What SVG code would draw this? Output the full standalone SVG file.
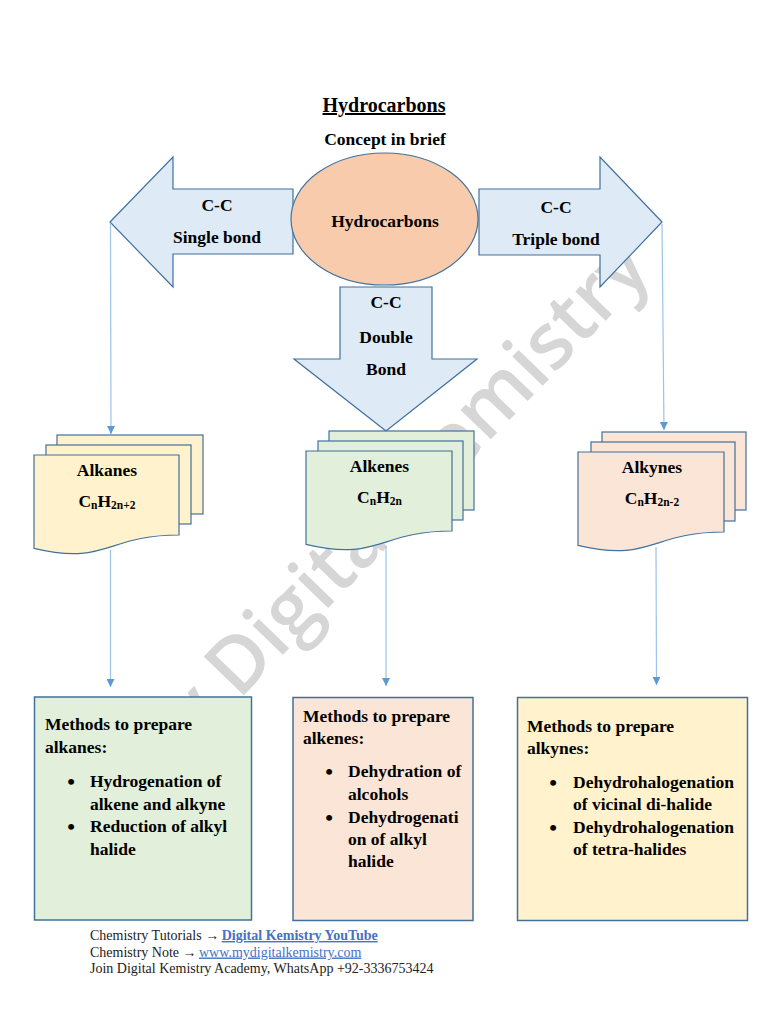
<svg xmlns="http://www.w3.org/2000/svg" width="768" height="1024" viewBox="0 0 768 1024">
<style>
.t{font-family:"Liberation Serif","Times New Roman",serif;font-weight:bold;font-size:17.5px;fill:#000}
.c{text-anchor:middle}
.sub{font-size:11.5px}
.bul{font-size:22px}
.arrow{fill:#DEEBF7;stroke:#41719C;stroke-width:1.2;stroke-linejoin:miter}
.doc{stroke:#41719C;stroke-width:1.2}
.box{stroke:#41719C;stroke-width:1.5}
.conn{stroke:#9DC3E6;stroke-width:1.2;fill:none}
.ft{font-family:"Liberation Serif","Times New Roman",serif;font-size:14px;fill:#222}
.lnk{fill:#4472C4;text-decoration:underline}
</style>
<defs>
<marker id="ah" viewBox="0 0 10 10" refX="10" refY="5" markerWidth="8" markerHeight="8" markerUnits="userSpaceOnUse" orient="auto">
<path d="M0,0 L10,5 L0,10 Z" fill="#5B9BD5"/>
</marker>
</defs>
<rect width="768" height="1024" fill="#fff"/>
<g id="watermark">
<text x="160" y="782" transform="rotate(-46 160 782)" font-family="'Open Sans','Noto Sans',sans-serif" font-weight="600" font-size="78" fill="#D6D6D6">By Digital Kemistry</text>
</g>
<g id="title">
<text class="t c" x="384" y="112" style="font-size:20px;text-decoration:underline">Hydrocarbons</text>
<text class="t c" x="385" y="145">Concept in brief</text>
</g>
<g id="single-bond">
<path class="arrow" d="M110,222 L173,157 L173,189 L293,189 L293,254 L173,254 L173,287 Z"/>
<text class="t c" x="217" y="211">C-C</text>
<text class="t c" x="217" y="243">Single bond</text>
</g>
<g id="triple-bond">
<path class="arrow" d="M662,222 L600,157 L600,189 L479,189 L479,255 L600,255 L600,287 Z"/>
<text class="t c" x="556" y="213">C-C</text>
<text class="t c" x="556" y="245">Triple bond</text>
</g>
<g id="double-bond">
<path class="arrow" d="M386,431 L294,359 L340,359 L340,287 L432,287 L432,359 L477,359 Z"/>
<text class="t c" x="386" y="308">C-C</text>
<text class="t c" x="386" y="343">Double</text>
<text class="t c" x="386" y="375">Bond</text>
</g>
<g id="hydrocarbons">
<ellipse cx="384.5" cy="219" rx="93.5" ry="66" fill="#F8CBAD" stroke="#41719C" stroke-width="1.2"/>
<text class="t c" x="385" y="227">Hydrocarbons</text>
</g>
<g id="connectors">
<line class="conn" x1="110.5" y1="223" x2="111" y2="434" marker-end="url(#ah)"/>
<line class="conn" x1="662" y1="224" x2="664" y2="430" marker-end="url(#ah)"/>
<line class="conn" x1="110.5" y1="550" x2="110.5" y2="687" marker-end="url(#ah)"/>
<line class="conn" x1="386" y1="546" x2="386" y2="686" marker-end="url(#ah)"/>
<line class="conn" x1="656" y1="547" x2="656.5" y2="685" marker-end="url(#ah)"/>
</g>
<g id="alkanes">
<rect class="doc" x="57" y="435" width="146" height="79" fill="#FFF2CC"/>
<rect class="doc" x="46" y="445" width="145" height="79" fill="#FFF2CC"/>
<path class="doc" d="M34,455 H179 V535 C106.5,535 106.5,565.7 34,548.4 Z" fill="#FFF2CC"/>
<text class="t c" x="107" y="476">Alkanes</text>
<text class="t c" x="107" y="507">C<tspan class="sub" dy="2">n</tspan><tspan dy="-2">H</tspan><tspan class="sub" dy="2">2n+2</tspan></text>
</g>
<g id="alkenes">
<rect class="doc" x="329" y="431" width="145" height="79" fill="#E2EFDA"/>
<rect class="doc" x="318" y="441" width="145" height="79" fill="#E2EFDA"/>
<path class="doc" d="M306,451 H452 V531 C379,531 379,561.7 306,544.4 Z" fill="#E2EFDA"/>
<text class="t c" x="379.5" y="472">Alkenes</text>
<text class="t c" x="379.5" y="503">C<tspan class="sub" dy="2">n</tspan><tspan dy="-2">H</tspan><tspan class="sub" dy="2">2n</tspan></text>
</g>
<g id="alkynes">
<rect class="doc" x="602" y="432" width="144" height="78" fill="#FBE5D6"/>
<rect class="doc" x="591" y="442" width="144" height="79" fill="#FBE5D6"/>
<path class="doc" d="M578,452 H724 V532 C651,532 651,562.7 578,545.4 Z" fill="#FBE5D6"/>
<text class="t c" x="652" y="473">Alkynes</text>
<text class="t c" x="652" y="504">C<tspan class="sub" dy="2">n</tspan><tspan dy="-2">H</tspan><tspan class="sub" dy="2">2n-2</tspan></text>
</g>
<g id="alkanes-methods">
<rect class="box" x="34.5" y="697" width="217" height="223" fill="#E2EFDA"/>
<text class="t" x="45" y="730">Methods to prepare</text>
<text class="t" x="45" y="753">alkanes:</text>
<text class="t c bul" x="71" y="789">•</text>
<text class="t" x="90" y="787">Hydrogenation of</text>
<text class="t" x="90" y="810">alkene and alkyne</text>
<text class="t c bul" x="71" y="834">•</text>
<text class="t" x="90" y="832">Reduction of alkyl</text>
<text class="t" x="90" y="855">halide</text>
</g>
<g id="alkenes-methods">
<rect class="box" x="293" y="697.5" width="180" height="223" fill="#FBE5D6"/>
<text class="t" x="303" y="722">Methods to prepare</text>
<text class="t" x="303" y="744">alkenes:</text>
<text class="t c bul" x="329" y="779">•</text>
<text class="t" x="348" y="777">Dehydration of</text>
<text class="t" x="348" y="800">alcohols</text>
<text class="t c bul" x="329" y="825">•</text>
<text class="t" x="348" y="823">Dehydrogenati</text>
<text class="t" x="348" y="845">on of alkyl</text>
<text class="t" x="348" y="867">halide</text>
</g>
<g id="alkynes-methods">
<rect class="box" x="517.5" y="697.5" width="230" height="223" fill="#FFF2CC"/>
<text class="t" x="527" y="732">Methods to prepare</text>
<text class="t" x="527" y="754">alkynes:</text>
<text class="t c bul" x="553" y="790">•</text>
<text class="t" x="573" y="788">Dehydrohalogenation</text>
<text class="t" x="573" y="810">of vicinal di-halide</text>
<text class="t c bul" x="553" y="835">•</text>
<text class="t" x="573" y="833">Dehydrohalogenation</text>
<text class="t" x="573" y="855">of tetra-halides</text>
</g>
<g id="footer">
<text class="ft" x="90" y="940">Chemistry Tutorials <tspan font-weight="bold">→</tspan> <tspan class="lnk" x="221.7" font-weight="bold">Digital Kemistry YouTube</tspan></text>
<text class="ft" x="90" y="956.5">Chemistry Note <tspan font-weight="bold">→</tspan> <tspan class="lnk" x="199">www.mydigitalkemistry.com</tspan></text>
<text class="ft" x="90" y="973">Join Digital Kemistry Academy, WhatsApp +92-3336753424</text>
</g>
</svg>
